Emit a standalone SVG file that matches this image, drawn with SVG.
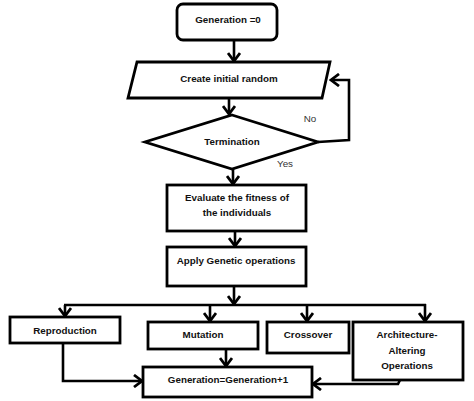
<svg xmlns="http://www.w3.org/2000/svg" width="474" height="401" viewBox="0 0 474 401">
<defs>
<marker id="ah" markerWidth="12" markerHeight="14" viewBox="-10 -7 12 14" refX="0" refY="0" orient="auto" markerUnits="userSpaceOnUse">
<polyline points="-8,-6 0,0 -8,6" fill="none" stroke="#000" stroke-width="2.8"/>
</marker>
</defs>
<style>
.s{fill:#fff;stroke:#000;stroke-width:2.8}
.c{fill:none;stroke:#000;stroke-width:2.6;marker-end:url(#ah)}
.l{fill:none;stroke:#000;stroke-width:2.6}
text{font-family:"Liberation Sans",Arial,sans-serif;font-weight:bold;font-size:9.8px;text-anchor:middle;fill:#111}
.n{font-weight:normal;fill:#333}
</style>
<rect width="474" height="401" fill="#fff"/>
<g id="connectors">
<line class="c" x1="234" y1="40" x2="234" y2="61"/>
<line class="c" x1="229" y1="98" x2="229" y2="114"/>
<polyline class="c" points="318,142 349,140 349,80 331,80"/>
<line class="c" x1="233" y1="169" x2="233" y2="184"/>
<line class="c" x1="235" y1="231" x2="235" y2="246"/>
<line class="c" x1="234" y1="286" x2="234" y2="304"/>
<line class="l" x1="64" y1="305" x2="426" y2="305"/>
<line class="c" x1="65" y1="305" x2="65" y2="316"/>
<line class="c" x1="210" y1="305" x2="210" y2="321"/>
<line class="c" x1="307" y1="305" x2="307" y2="321"/>
<line class="c" x1="425" y1="304" x2="425" y2="321"/>
<line class="c" x1="226" y1="349" x2="226" y2="366"/>
<polyline class="c" points="63,343 63,381 142,381"/>
<polyline class="c" points="400,380 398,384 313,384"/>
<text class="n" x="310" y="122">No</text>
<text class="n" x="285" y="167">Yes</text>
</g>
<g id="gen0">
<rect class="s" x="177" y="4" width="100" height="36" rx="6"/>
<text x="228" y="23">Generation =0</text>
</g>
<g id="create">
<polygon class="s" points="137,62 330,62 322,98 128,98"/>
<text x="229" y="82">Create initial random</text>
</g>
<g id="termination">
<polygon class="s" points="232,115 318,142 232,169 145,142"/>
<text x="232" y="145">Termination</text>
</g>
<g id="evaluate">
<rect class="s" x="167" y="185" width="139" height="46"/>
<text x="237" y="201">Evaluate the fitness of</text>
<text x="237" y="216">the individuals</text>
</g>
<g id="apply">
<rect class="s" x="167" y="247" width="139" height="39"/>
<text x="236" y="264">Apply Genetic operations</text>
</g>
<g id="reproduction">
<rect class="s" x="10" y="317" width="110" height="26"/>
<text x="65" y="334">Reproduction</text>
</g>
<g id="mutation">
<rect class="s" x="148" y="322" width="110" height="27"/>
<text x="203" y="338">Mutation</text>
</g>
<g id="crossover">
<rect class="s" x="267" y="322" width="82" height="31"/>
<text x="308" y="338">Crossover</text>
</g>
<g id="architecture">
<rect class="s" x="353" y="322" width="110" height="58"/>
<text x="407" y="338">Architecture-</text>
<text x="407" y="354">Altering</text>
<text x="407" y="369">Operations</text>
</g>
<g id="nextgen">
<rect class="s" x="143" y="367" width="169" height="30"/>
<text x="228" y="383">Generation=Generation+1</text>
</g>
</svg>
